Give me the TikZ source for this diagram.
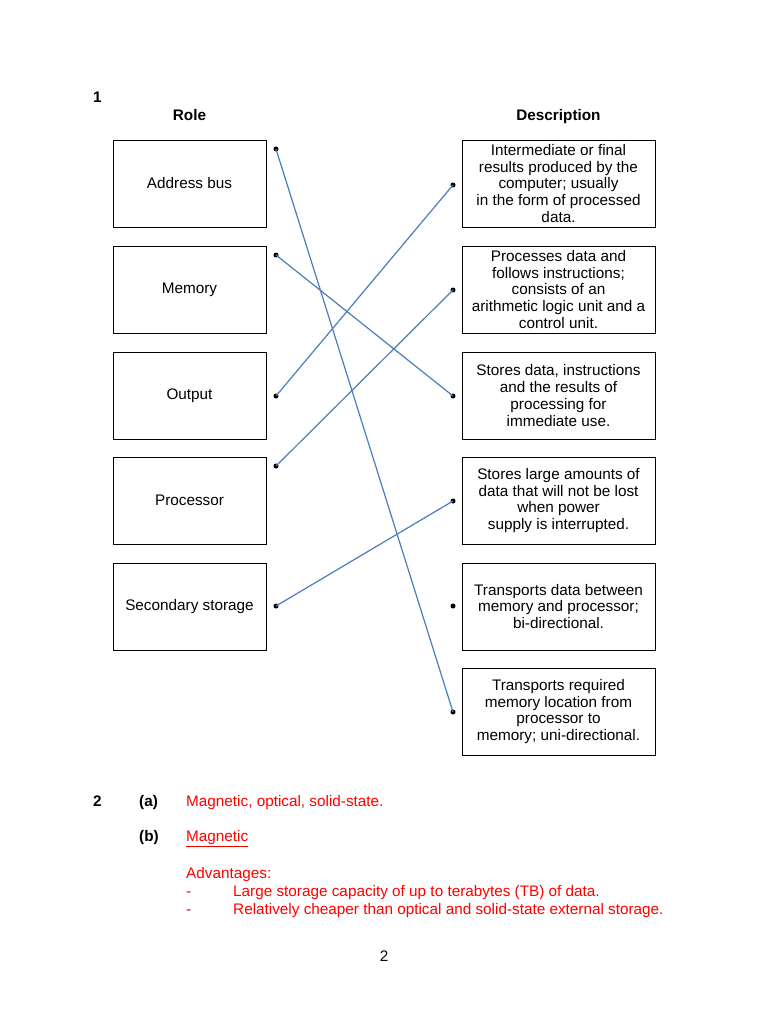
\documentclass[tikz,border=0pt]{standalone}
\usepackage{fontspec}
\setmainfont{Liberation Sans}
\definecolor{linkblue}{RGB}{74,126,187}
\definecolor{ansred}{RGB}{255,0,0}
\begin{document}
\begin{tikzpicture}[x=1pt,y=-1pt,
  txt/.style={font=\fontsize{15.3}{16.8}\selectfont},
  btxt/.style={font=\fontsize{15.3}{16.8}\selectfont\bfseries},
  rolebox/.style={draw=black,line width=0.9pt,minimum width=153pt,minimum height=87pt,inner sep=0pt,txt,align=center},
  descbox/.style={draw=black,line width=0.9pt,minimum width=193pt,minimum height=87pt,inner sep=0pt,txt,align=center},
  dot/.style={circle,fill=black,inner sep=0pt,minimum size=5pt},
  link/.style={draw=linkblue,line width=1.2pt},
  plain/.style={txt,inner sep=0pt,anchor=base west},
  bplain/.style={btxt,inner sep=0pt,anchor=base west},
  red/.style={plain,text=ansred}]
\useasboundingbox (0,0) rectangle (768,1024);
\fill[white] (0,0) rectangle (768,1024);

\node[bplain] (n1) at (93,102.5) {1};
\node[btxt,inner sep=0pt,anchor=base] (hrole) at (189.5,120.5) {Role};
\node[btxt,inner sep=0pt,anchor=base] (hdesc) at (558.5,120.5) {Description};

\node[rolebox] (r1) at (189.5,183.5) {Address bus};
\node[rolebox] (r2) at (189.5,289.5) {Memory};
\node[rolebox] (r3) at (189.5,395.5) {Output};
\node[rolebox] (r4) at (189.5,500.5) {Processor};
\node[rolebox] (r5) at (189.5,606.5) {Secondary storage};

\node[descbox] (d1) at (558.5,183.5) {Intermediate or final\\results produced by the\\computer; usually\\in the form of processed\\data.};
\node[descbox] (d2) at (558.5,289.5) {Processes data and\\follows instructions;\\consists of an\\arithmetic logic unit and a\\control unit.};
\node[descbox] (d3) at (558.5,395.5) {Stores data, instructions\\and the results of\\processing for\\immediate use.};
\node[descbox] (d4) at (558.5,500.5) {Stores large amounts of\\data that will not be lost\\when power\\supply is interrupted.};
\node[descbox] (d5) at (558.5,606.5) {Transports data between\\memory and processor;\\bi-directional.};
\node[descbox] (d6) at (558.5,711.5) {Transports required\\memory location from\\processor to\\memory; uni-directional.};

\node[dot] (la) at (276,149) {};
\node[dot] (lb) at (276,255) {};
\node[dot] (lc) at (276,396) {};
\node[dot] (ld) at (276,466) {};
\node[dot] (le) at (276,606) {};

\node[dot] (ra) at (453,185) {};
\node[dot] (rb) at (453,290) {};
\node[dot] (rc) at (453,396) {};
\node[dot] (rd) at (453,501) {};
\node[dot] (re) at (453,606) {};
\node[dot] (rf) at (453,712) {};

\draw[link] (la.center) -- (rf.center);
\draw[link] (lb.center) -- (rc.center);
\draw[link] (lc.center) -- (ra.center);
\draw[link] (ld.center) -- (rb.center);
\draw[link] (le.center) -- (rd.center);

\node[bplain] (n2) at (93,806.5) {2};
\node[bplain] (pa) at (139,806.5) {(a)};
\node[red] (ta) at (186,806.5) {Magnetic, optical, solid-state.};
\node[bplain] (pb) at (139,841.5) {(b)};
\node[red] (tb) at (186,841.5) {\underline{Magnetic}};
\node[red] (adv) at (186,878.5) {Advantages:};
\node[red] (h1) at (186,896.5) {-};
\node[red] (a1) at (233,896.5) {Large storage capacity of up to terabytes (TB) of data.};
\node[red] (h2) at (186,914.5) {-};
\node[red] (a2) at (233,914.5) {Relatively cheaper than optical and solid-state external storage.};

\node[txt,inner sep=0pt,anchor=base] (pg) at (384,961.5) {2};
\end{tikzpicture}
\end{document}
